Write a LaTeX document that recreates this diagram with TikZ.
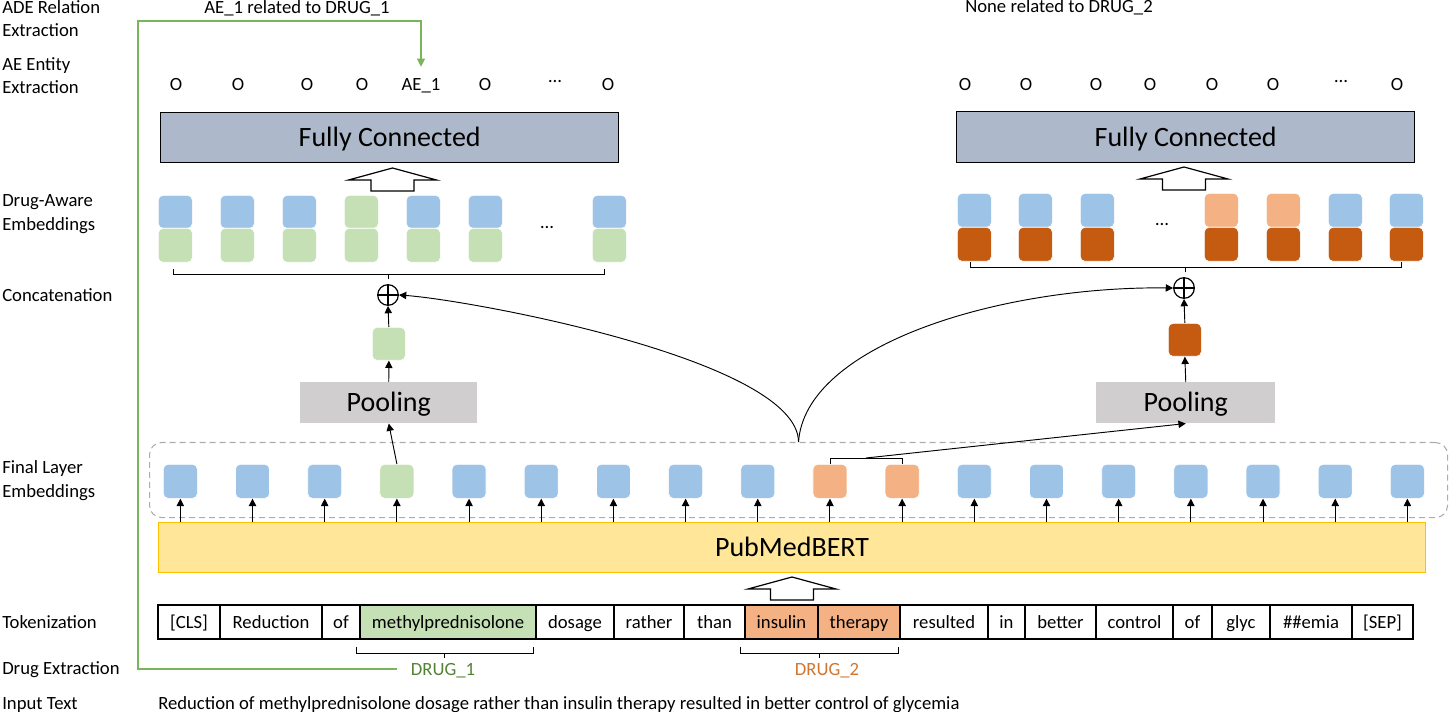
\documentclass[tikz,border=0pt]{standalone}
\usepackage{fontspec}
\setmainfont{Carlito}
\usetikzlibrary{arrows.meta,calc}
\definecolor{cblue}{HTML}{9DC3E6}
\definecolor{cgreen}{HTML}{C5E0B4}
\definecolor{corange}{HTML}{F4B183}
\definecolor{cdark}{HTML}{C55A11}
\definecolor{cfc}{HTML}{ADB9CA}
\definecolor{cpool}{HTML}{D0CECE}
\definecolor{cbert}{HTML}{FFE699}
\definecolor{cbertb}{HTML}{FFC000}
\definecolor{gline}{HTML}{7AB55C}
\definecolor{gtext}{HTML}{548235}
\definecolor{otext}{HTML}{D07530}
\newcommand\myblkarrow[2]{%
  \draw[blk] ({#1-44},{#2+12}) -- (#1,#2) -- ({#1+44},{#2+12}) -- ({#1+21.5},{#2+12})
    -- ({#1+21.5},{#2+23}) -- ({#1-21.5},{#2+23}) -- ({#1-21.5},{#2+12}) -- cycle;}
\begin{document}
\begin{tikzpicture}[x=0.75pt,y=-0.75pt,
  txt/.style={font=\fontsize{14}{17}\selectfont, inner sep=0pt, text height=9pt, text depth=0pt},
  lbl/.style={txt, anchor=west},
  dots/.style={font=\fontsize{14}{17}\selectfont, inner sep=0pt},
  big/.style={font=\fontsize{21}{24}\selectfont, text height=13.5pt, text depth=0pt, inner sep=0pt},
  sq/.style={rounded corners=3.5pt, minimum width=25.5pt, minimum height=25.5pt, inner sep=0pt,
     anchor=north west, draw=white, line width=0.5pt},
  tok/.style={txt, draw=black, line width=0.9pt, minimum height=25.5pt},
  arr/.style={line width=0.7pt, -{Triangle[length=5.5pt,width=5.5pt]}},
  blk/.style={draw=black, line width=0.9pt, fill=white, line join=miter},
  brk/.style={line width=0.6pt},
  bbox/.style={anchor=north west, inner sep=0pt}
]
\useasboundingbox (0,0) rectangle (1452,712);

% ---- left labels
\node[lbl] (L1a) at (2,8) {ADE Relation};
\node[lbl] (L1b) at (2,31) {Extraction};
\node[lbl] (L2a) at (2,65) {AE Entity};
\node[lbl] (L2b) at (2,88) {Extraction};
\node[lbl] (L3a) at (2,201) {Drug-Aware};
\node[lbl] (L3b) at (2,225) {Embeddings};
\node[lbl] (L4) at (2,296) {Concatenation};
\node[lbl] (L5a) at (2,468) {Final Layer};
\node[lbl] (L5b) at (2,492) {Embeddings};
\node[lbl] (L6) at (2,622) {Tokenization};
\node[lbl] (L7) at (2,668) {Drug Extraction};
\node[lbl] (L8) at (2,703) {Input Text};

% ---- top relation labels
\node[txt] (rel1) at (297,8) {AE\_1 related to DRUG\_1};
\node[txt] (rel2) at (1059,7) {None related to DRUG\_2};

% ---- output tags
\foreach \x/\t [count=\i] in {176/O,238/O,307/O,362/O,421/{AE\_1},485/O,608/O}
  \node[txt] (ol\i) at (\x,85) {\t};
\node[dots] (oldots) at (555,82) {…};
\foreach \x/\t [count=\i] in {965/O,1026/O,1096/O,1150/O,1212/O,1273/O,1397/O}
  \node[txt] (or\i) at (\x,85) {\t};
\node[dots] (ordots) at (1341,82) {…};

% ---- fully connected
\node[bbox, big, draw=black, line width=1pt, fill=cfc,
  minimum width=343.5pt, minimum height=37.5pt] (fcl) at (160,112) {Fully Connected};
\node[bbox, big, draw=black, line width=1pt, fill=cfc,
  minimum width=343.5pt, minimum height=38.25pt] (fcr) at (956,111) {Fully Connected};

% ---- block arrows
\myblkarrow{392.5}{168}
\myblkarrow{1184}{167}
\myblkarrow{792}{577}

% ---- drug-aware embeddings
\foreach \x/\c [count=\i] in {158/cblue,220/cblue,282/cblue,344/cgreen,406/cblue,468/cblue,592/cblue}{
  \node[sq, fill=\c, minimum height=24.75pt] (la\i) at (\x,195) {};
  \node[sq, fill=cgreen] (lb\i) at (\x,228) {};
}
\node[dots] (ledots) at (547,228) {…};
\foreach \x/\c [count=\i] in {957/cblue,1018/cblue,1080/cblue,1204/corange,1266/corange,1328/cblue,1389/cblue}{
  \node[sq, fill=\c, minimum height=25.5pt] (ra\i) at (\x,193) {};
  \node[sq, fill=cdark] (rb\i) at (\x,227) {};
}
\node[dots] (redots) at (1162,225) {…};

% ---- brackets under embeddings
\draw[brk] (173,269) -- (173,274) -- (604,274) -- (604,269);
\draw[brk] (388,274) -- (388,279);
\draw[brk] (970,262) -- (970,267) -- (1401,267) -- (1401,262);
\draw[brk] (1185,267) -- (1185,272);

% ---- concatenation circles
\node[circle, draw=black, line width=0.9pt, minimum size=15.5pt, inner sep=0pt] (opl) at (388,295) {};
\draw[line width=0.9pt] (opl.north) -- (opl.south) (opl.west) -- (opl.east);
\node[circle, draw=black, line width=0.9pt, minimum size=15.5pt, inner sep=0pt] (opr) at (1184,288) {};
\draw[line width=0.9pt] (opr.north) -- (opr.south) (opr.west) -- (opr.east);

% ---- pooled drug vectors
\node[sq, fill=cgreen, minimum width=24.75pt, minimum height=24.75pt] (sl) at (372,327) {};
\node[sq, fill=cdark, minimum width=24.75pt, minimum height=24.75pt] (sr) at (1168,323) {};

% ---- pooling
\node[bbox, big, fill=cpool, minimum width=132.75pt, minimum height=30.75pt] (pl) at (300,382) {Pooling};
\node[bbox, big, fill=cpool, minimum width=134.25pt, minimum height=30.75pt] (pr) at (1096,382) {Pooling};

% ---- final layer box
\node[bbox, draw=gray!65, dash pattern=on 4.5pt off 3pt, line width=0.8pt, rounded corners=9pt,
  minimum width=973.5pt, minimum height=56.25pt] (flb) at (149,442) {};

% ---- PubMedBERT
\node[bbox, big, draw=cbertb, line width=0.8pt, fill=cbert,
  minimum width=950.25pt, minimum height=37.5pt] (pm) at (158,522) {PubMedBERT};

% ---- final layer embeddings
\foreach \c [count=\i] in {cblue,cblue,cblue,cgreen,cblue,cblue,cblue,cblue,cblue,corange,corange,cblue,cblue,cblue,cblue,cblue,cblue,cblue}{
  \node[sq, fill=\c] (f\i) at ({163+72.18*(\i-1)},464) {};
  \draw[arr] (f\i.south |- pm.north) -- (f\i.south);
}

% ---- tokens
\foreach \a/\b/\t/\c [count=\i] in {158/220/{[CLS]}/white,220/322/Reduction/white,322/360/of/white,
  360/536/methylprednisolone/cgreen,536/614/dosage/white,614/684/rather/white,684/745/than/white,
  745/818/insulin/corange,818/900/therapy/corange,900/988/resulted/white,988/1025/in/white,
  1025/1096/better/white,1096/1173/control/white,1173/1212/of/white,1212/1270/glyc/white,
  1270/1352/{\#\#emia}/white,1352/1413/{[SEP]}/white}{
  \node[tok, fill=\c, minimum width={(\b-\a)*0.75pt}] (t\i) at ({(\a+\b)/2},622) {\t};
}

% ---- drug brackets and labels
\draw[brk] (356,647) -- (356,653) -- (533,653) -- (533,647);
\draw[brk] (444,653) -- (444,658);
\draw[brk] (740,647) -- (740,653) -- (898,653) -- (898,647);
\draw[brk] (819,653) -- (819,658);
\node[txt, text=gtext] (d1) at (443,669) {DRUG\_1};
\node[txt, text=otext] (d2) at (827,669) {DRUG\_2};

% ---- input text
\node[lbl] (inp) at (158,703) {Reduction of methylprednisolone dosage rather than insulin therapy resulted in better control of glycemia};

% ---- connectors
\draw[arr] (f4.north) -- (pl.south);
\draw[arr] (pl.north) -- (sl.south);
\draw[arr] (sl.north) -- (opl.south);
\draw[brk] (f10.north) -- ++(0,-6) -| (f11.north);
\coordinate (ob) at ($(f10.north)!0.5!(f11.north)+(0,-6)$);
\draw[arr] (ob) -- (pr.south);
\draw[arr] (pr.north) -- (sr.south);
\draw[arr] (sr.north) -- (opr.south);
\draw[arr] (flb.north) .. controls (798,360) and (470,300) .. (opl.east);
\draw[arr] (flb.north) .. controls (805,345) and (1000,286) .. (opr.west);

% ---- green relation line
\coordinate (gb) at (138,669);
\coordinate (gt) at (138,21);
\draw[gline, line width=0.8pt, shorten <=10pt, shorten >=9pt, -{Triangle[length=6pt,width=6pt]}]
  (d1.west) -- (gb) -- (gt) -| (ol5.north);
\end{tikzpicture}
\end{document}
